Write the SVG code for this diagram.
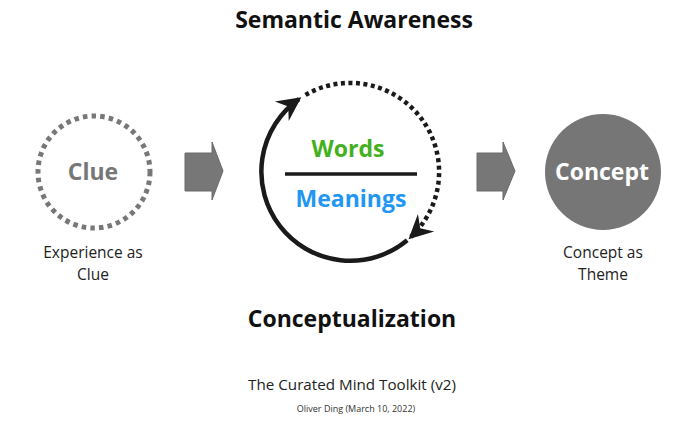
<svg xmlns="http://www.w3.org/2000/svg" width="700" height="428" viewBox="0 0 700 428">
<style>
text{font-family:"Open Sans","Noto Sans","Liberation Sans",sans-serif;text-anchor:middle}
.title{font-size:23px;font-weight:700;fill:#111}
.big{font-size:23px;font-weight:700}
.cap{font-size:15.5px;fill:#222}
.block{fill:#777;stroke:#6a6a6a;stroke-width:1}
.solid{fill:none;stroke:#1a1a1a;stroke-width:4.5}
.dots{fill:none;stroke:#1a1a1a;stroke-width:4.5;stroke-dasharray:4 3.5}
</style>
<defs>
<marker id="head" markerUnits="userSpaceOnUse" markerWidth="40" markerHeight="40" refX="0" refY="0" orient="auto" overflow="visible">
<path d="M3,0 L-21,-12 L-13,0 L-21,12 Z" fill="#1a1a1a"/>
</marker>
</defs>
<rect width="700" height="428" fill="#fff"/>
<text class="title" x="354" y="28">Semantic Awareness</text>
<g id="clue">
<circle cx="94" cy="172" r="56" fill="none" stroke="#777" stroke-width="5" stroke-dasharray="4.5 4.2"/>
<text class="big" x="93" y="180" fill="#777">Clue</text>
<text class="cap" x="93" y="258">Experience as</text>
<text class="cap" x="93" y="280">Clue</text>
</g>
<g id="cycle">
<text class="big" x="348" y="157" fill="#44b01e">Words</text>
<line x1="285" y1="174" x2="417" y2="174" stroke="#1a1a1a" stroke-width="3.5"/>
<text class="big" x="351" y="207" fill="#2196f3">Meanings</text>
</g>
<g id="concept">
<circle cx="603" cy="172" r="58" fill="#767676"/>
<text class="big" x="602" y="180" fill="#fff">Concept</text>
<text class="cap" x="603" y="258">Concept as</text>
<text class="cap" x="603" y="280">Theme</text>
</g>
<g id="connectors">
<path class="block" d="M185,153 H212 V142 L223,171 L212,200 V191 H185 Z"/>
<path class="block" d="M477,153 H503 V142 L515,171 L503,200 V191 H477 Z"/>
<path class="solid" d="M407.2,240.2 A89,89 0 1 1 298.9,99.1" marker-end="url(#head)"/>
<path class="dots" d="M305.5,94.9 A89,89 0 0 1 410.7,237.1" marker-end="url(#head)"/>
</g>
<text class="title" x="352" y="327">Conceptualization</text>
<text x="352" y="390" style="font-size:15.2px;fill:#222">The Curated Mind Toolkit (v2)</text>
<text x="356" y="412" style="font-size:9px;fill:#333">Oliver Ding (March 10, 2022)</text>
</svg>
